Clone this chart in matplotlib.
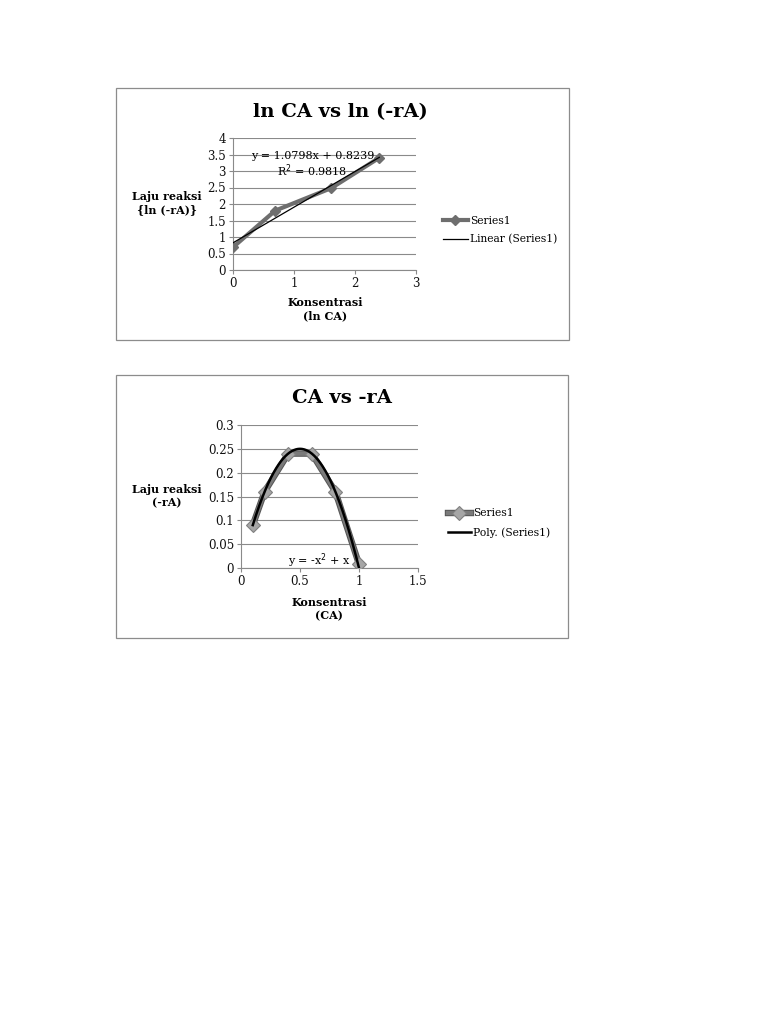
import numpy as np
import matplotlib
matplotlib.use("Agg")
import matplotlib.pyplot as plt
from matplotlib.patches import Rectangle
from matplotlib.legend_handler import HandlerTuple
import matplotlib.patheffects as pe

plt.rcParams['font.family'] = ['DejaVu Serif']

# ---- Chart 1 data: ln CA vs ln(-rA)
ln_ca = [0.0, 0.693, 1.609, 2.398]
ln_ra = [0.69, 1.80, 2.48, 3.40]
lin_slope = 1.0798
lin_intercept = 0.8239
lin_r2 = 0.9818
x1_ticks = [0, 1, 2, 3]
y1_ticks = [0, 0.5, 1, 1.5, 2, 2.5, 3, 3.5, 4]
y1_labels = ['0', '0.5', '1', '1.5', '2', '2.5', '3', '3.5', '4']

# ---- Chart 2 data: CA vs -rA
ca = [0.1, 0.2, 0.4, 0.6, 0.8, 1.0]
ra = [0.09, 0.16, 0.24, 0.24, 0.16, 0.008]
poly_a = -1.0
poly_b = 1.0
poly_c = 0.0
x2_ticks = [0, 0.5, 1, 1.5]
x2_labels = ['0', '0.5', '1', '1.5']
y2_ticks = [0, 0.05, 0.1, 0.15, 0.2, 0.25, 0.3]
y2_labels = ['0', '0.05', '0.1', '0.15', '0.2', '0.25', '0.3']

W, H = 768, 1024
fig = plt.figure(figsize=(W / 100, H / 100), dpi=100)
fig.patch.set_facecolor('white')


def fx(px):
    return px / W


def fy(py):
    return 1 - py / H


def box(x0, y0, x1, y1):
    fig.add_artist(Rectangle((fx(x0), fy(y1)), fx(x1) - fx(x0), fy(y0) - fy(y1),
                             transform=fig.transFigure, fill=False,
                             edgecolor='#8c8c8c', linewidth=0.9))


def style_axes(ax):
    ax.grid(axis='y', color='#8a8a8a', linewidth=0.8)
    ax.set_axisbelow(True)
    for s in ['top', 'right']:
        ax.spines[s].set_visible(False)
    for s in ['left', 'bottom']:
        ax.spines[s].set_color('#8a8a8a')
        ax.spines[s].set_linewidth(0.8)
    ax.tick_params(axis='both', colors='#8a8a8a', labelcolor='#111111',
                   labelsize=8.5, length=3, width=0.8, direction='out', pad=2)


# ================= Chart 1 =================
box(116, 88, 569, 340)
ax1 = fig.add_axes([fx(233), fy(270), fx(416) - fx(233), fy(138) - fy(270)])
ax1.set_xlim(0, 3)
ax1.set_ylim(0, 4)
ax1.set_xticks(x1_ticks)
ax1.set_yticks(y1_ticks)
ax1.set_yticklabels(y1_labels)
style_axes(ax1)
s1, = ax1.plot(ln_ca, ln_ra, color='#6e6e6e', linewidth=3, marker='D',
               markersize=5.5, markerfacecolor='#6e6e6e', markeredgecolor='#6e6e6e',
               label='Series1', zorder=3)
xt = np.array([min(ln_ca), max(ln_ca)])
t1, = ax1.plot(xt, lin_slope * xt + lin_intercept, color='black', linewidth=0.9,
               label='Linear (Series1)', zorder=4)
ax1.text(1.3, 3.45, f'y = {lin_slope}x + {lin_intercept}', fontsize=8,
         ha='center', va='center', zorder=5)
ax1.text(1.3, 3.0, f'R$^2$ = {lin_r2}', fontsize=8, ha='center', va='center', zorder=5)

fig.text(fx(340), fy(112), 'ln CA vs ln (-rA)', fontsize=14, fontweight='bold',
         ha='center', va='center')
fig.text(fx(167), fy(203), 'Laju reaksi\n{ln (-rA)}', fontsize=8, fontweight='bold',
         ha='center', va='center', linespacing=1.3)
fig.text(fx(325), fy(309), 'Konsentrasi\n(ln CA)', fontsize=8, fontweight='bold',
         ha='center', va='center', linespacing=1.3)
fig.legend(handles=[s1, t1], labels=['Series1', 'Linear (Series1)'],
           loc='center left', bbox_to_anchor=(fx(433), fy(230)),
           frameon=False, fontsize=7.7, handlelength=2.4, labelspacing=0.8,
           handletextpad=0.15)

# ================= Chart 2 =================
box(116, 375, 568, 638)
ax2 = fig.add_axes([fx(241), fy(568), fx(418) - fx(241), fy(425) - fy(568)])
ax2.set_xlim(0, 1.5)
ax2.set_ylim(0, 0.3)
ax2.set_xticks(x2_ticks)
ax2.set_xticklabels(x2_labels)
ax2.set_yticks(y2_ticks)
ax2.set_yticklabels(y2_labels)
style_axes(ax2)
l2, = ax2.plot(ca, ra, color='#7a7a7a', linewidth=3.2, zorder=3,
               path_effects=[pe.Stroke(linewidth=4.6, foreground='#555555'), pe.Normal()])
m2, = ax2.plot(ca, ra, linestyle='none', marker='D', markersize=7,
               markerfacecolor='#a6a6a6', markeredgecolor='#808080',
               markeredgewidth=0.8, zorder=3.5)
xc = np.linspace(min(ca), max(ca), 200)
t2, = ax2.plot(xc, poly_a * xc ** 2 + poly_b * xc + poly_c, color='black',
               linewidth=1.8, label='Poly. (Series1)', zorder=4)
ax2.text(0.66, 0.016, 'y = -x$^2$ + x', fontsize=8, ha='center', va='center', zorder=5)

fig.text(fx(342), fy(398), 'CA vs -rA', fontsize=14, fontweight='bold',
         ha='center', va='center')
fig.text(fx(167), fy(496), 'Laju reaksi\n(-rA)', fontsize=8, fontweight='bold',
         ha='center', va='center', linespacing=1.3)
fig.text(fx(329), fy(609), 'Konsentrasi\n(CA)', fontsize=8, fontweight='bold',
         ha='center', va='center', linespacing=1.3)
fig.legend(handles=[(l2, m2), t2], labels=['Series1', 'Poly. (Series1)'],
           handler_map={tuple: HandlerTuple(ndivide=1)},
           loc='center left', bbox_to_anchor=(fx(438), fy(523)),
           frameon=False, fontsize=7.7, handlelength=2.2, labelspacing=0.8,
           handletextpad=0.15)

fig.savefig('out.png', dpi=100, facecolor='white')
